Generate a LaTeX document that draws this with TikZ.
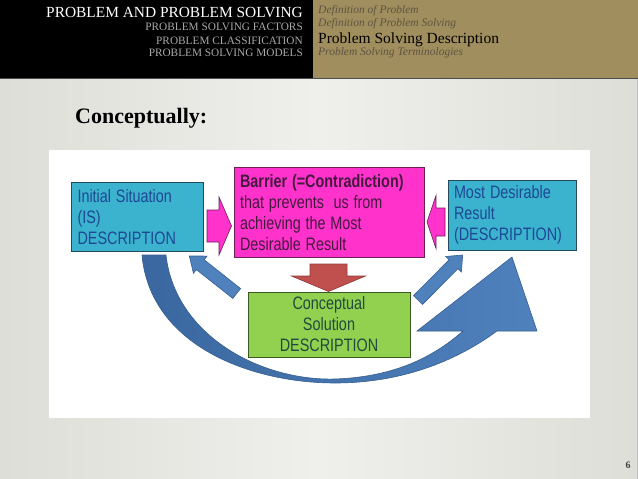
\documentclass[tikz,border=0pt]{standalone}
\usepackage{fontspec}
\usepackage{graphicx}
\setmainfont{Liberation Serif}
\newfontfamily\diagfont{Liberation Sans}
\newcommand\sq[1]{\scalebox{0.8}[1]{#1}}
\usetikzlibrary{calc}
\definecolor{hdgold}{HTML}{A08E5E}
\definecolor{hdgoldtxt}{HTML}{5E5440}
\definecolor{hdgray}{HTML}{A8A8A8}
\definecolor{bgmid}{HTML}{EFEFEC}
\definecolor{bgedge}{HTML}{DEDED8}
\definecolor{isfill}{HTML}{3CB3CE}
\definecolor{isline}{HTML}{23495A}
\definecolor{istxt}{HTML}{1D4894}
\definecolor{pkfill}{HTML}{FF33CC}
\definecolor{pkline}{HTML}{6A1F58}
\definecolor{pktxt}{HTML}{45183F}
\definecolor{grfill}{HTML}{92D050}
\definecolor{grline}{HTML}{3A5A22}
\definecolor{grtxt}{HTML}{1E4B3C}
\definecolor{rdfill}{HTML}{C0504D}
\definecolor{rdline}{HTML}{8C3A38}
\definecolor{blfill}{HTML}{4F81BD}
\definecolor{bldark}{HTML}{3A679F}
\definecolor{blline}{HTML}{36608F}
\newcommand\blkarrow[6]{%
  \coordinate (hb) at ($(#3)!#6!(#2)$);
  \draw[#1] ($(#2)!#4!90:(#3)$) -- ($(hb)!#4!90:(#3)$) -- ($(hb)!#5!90:(#3)$)
    -- (#3) -- ($(hb)!#5!-90:(#3)$) -- ($(hb)!#4!-90:(#3)$) -- ($(#2)!#4!-90:(#3)$) -- cycle;}
\tikzset{
  box/.style={draw, line width=0.9pt, inner xsep=6pt, inner ysep=0pt, align=left,
    font=\diagfont\fontsize{18}{21}\selectfont},
  isbox/.style={box, fill=isfill, draw=isline, text=istxt},
  pkbox/.style={box, fill=pkfill, draw=pkline, text=pktxt},
  grbox/.style={box, fill=grfill, draw=grline, text=grtxt, align=center},
  pkarrow/.style={fill=pkfill, draw=pkline, line width=0.6pt},
  rdarrow/.style={fill=rdfill, draw=rdline, line width=0.6pt},
  blarrow/.style={fill=blfill, draw=blline, line width=0.6pt},
  hdmain/.style={anchor=base east, inner sep=0pt, text=white, font=\fontsize{15.4}{15.4}\selectfont},
  hdsub/.style={anchor=base east, inner sep=0pt, text=hdgray, font=\fontsize{11.3}{11.3}\selectfont},
  hdit/.style={anchor=base west, inner sep=0pt, text=hdgoldtxt, font=\itshape\fontsize{11.5}{11.5}\selectfont},
  hdcur/.style={anchor=base west, inner sep=0pt, text=black, font=\fontsize{15.5}{15.5}\selectfont},
}
\begin{document}
\begin{tikzpicture}[x=1pt,y=-1pt]
\useasboundingbox (0,0) rectangle (638,479);
% background
\shade[left color=bgedge, right color=bgedge, middle color=bgmid] (0,0) rectangle (638,479);
\draw[color=black!25, line width=1pt] (637,78) -- (637,479);
% header
\fill[black] (0,0) rectangle (313,78);
\fill[hdgold] (313,0) rectangle (638,78);
\draw[color=black!70, line width=1pt] (0,78) -- (638,78);
\node[hdmain] (h1) at (303,17.3) {PROBLEM AND PROBLEM SOLVING};
\node[hdsub] (h2) at (303,30.7) {PROBLEM SOLVING FACTORS};
\node[hdsub] (h3) at (303,44) {PROBLEM CLASSIFICATION};
\node[hdsub] (h4) at (303,56.7) {PROBLEM SOLVING MODELS};
\node[hdit] (g1) at (318,13.3) {Definition of Problem};
\node[hdit] (g2) at (318,26.7) {Definition of Problem Solving};
\node[hdcur] (g3) at (318,43.3) {Problem Solving Description};
\node[hdit] (g4) at (318,55) {Problem Solving Terminologies};
% title
\node[anchor=base west, inner sep=0pt, font=\bfseries\fontsize{22}{22}\selectfont] (title) at (75,123.5) {Conceptually:};
% panel
\fill[white] (49,150) rectangle (590,418);
% big curved arrow
\shade[left color=bldark, right color=blfill, draw=blline, line width=0.6pt]
  (142,255) .. controls (150,345) and (250,383) .. (335,383)
  .. controls (400,383) and (455,362) .. (497,331)
  -- (537,331) -- (512,257) -- (417,331) -- (463,331)
  .. controls (430,360) and (390,377) .. (335,379)
  .. controls (260,381) and (175,335) .. (166,255) -- cycle;
% boxes
\node[isbox, minimum width=132pt, minimum height=69pt, text width=120pt] (is) at (137.5,217.2)
  {\sq{Initial Situation}\\\sq{(IS)}\\\sq{DESCRIPTION}};
\node[pkbox, minimum width=190pt, minimum height=90pt, text width=178pt] (bar) at (329,212.7)
  {\sq{\textbf{Barrier (=Contradiction)}}\\\sq{that prevents \ us from}\\\sq{achieving the Most}\\\sq{Desirable Result}};
\node[isbox, minimum width=128pt, minimum height=70pt, text width=116pt] (mdr) at (512,215)
  {\sq{Most Desirable}\\\sq{Result}\\\sq{(DESCRIPTION)}};
\node[grbox, minimum width=162pt, minimum height=65pt, text width=150pt] (cs) at (329,324.5)
  {\sq{Conceptual}\\\sq{Solution}\\\sq{DESCRIPTION}};
% pink arrows
\coordinate (pkLt) at (207,226);
\coordinate (pkLh) at (231.5,226);
\blkarrow{pkarrow}{pkLt}{pkLh}{16pt}{29pt}{12.5pt}
\coordinate (pkRt) at (445,222);
\coordinate (pkRh) at (427,222);
\blkarrow{pkarrow}{pkRt}{pkRh}{14pt}{26.5pt}{9pt}
% red arrow
\coordinate (rdt) at (328.5,264);
\coordinate (rdh) at (328.5,291.5);
\blkarrow{rdarrow}{rdt}{rdh}{18.5pt}{37pt}{15.5pt}
% small blue arrows
\coordinate (blLt) at (236.7,293.5);
\coordinate (blLh) at (189.3,256);
\blkarrow{blarrow}{blLt}{blLh}{6.3pt}{11pt}{14pt}
\coordinate (blRt) at (418,300);
\coordinate (blRh) at (462.7,255);
\blkarrow{blarrow}{blRt}{blRh}{6.3pt}{11pt}{13pt}
% slide number
\node[anchor=base, inner sep=0pt, text=black!75, font=\bfseries\fontsize{10}{10}\selectfont] (num) at (628,468) {6};
\end{tikzpicture}
\end{document}
